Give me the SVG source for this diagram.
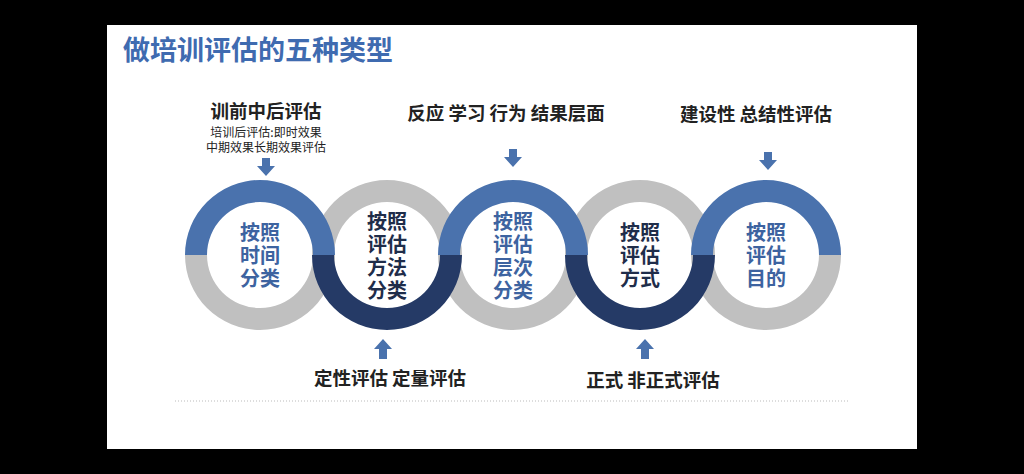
<svg xmlns="http://www.w3.org/2000/svg" width="1024" height="474" viewBox="0 0 1024 474">
<defs>
<style>
text{font-family:"Noto Sans CJK SC","Noto Sans",sans-serif;font-weight:bold}
.lbl{font-size:18.5px;fill:#222;text-anchor:middle}
.sm{font-size:12px;fill:#222;text-anchor:middle;font-weight:normal}
.in{font-size:20px;text-anchor:middle}
.b{fill:#3d63a0}.d{fill:#1f2d4a}
.arr{fill:#4a72ad}
</style>
</defs>
<rect width="1024" height="474" fill="#000"/>
<rect x="107" y="25" width="810" height="424" fill="#fff"/>
<text x="123" y="60" style="font-size:27px;fill:#3f6bb0">做培训评估的五种类型</text>
<g id="rings">
<path d="M185 255 A75 75 0 0 0 335 255 L313 255 A53 53 0 0 1 207 255Z" fill="#c0c0c0"/>
<path d="M312 255 A75 75 0 0 1 462 255 L440 255 A53 53 0 0 0 334 255Z" fill="#c0c0c0"/>
<path d="M438 255 A75 75 0 0 0 588 255 L566 255 A53 53 0 0 1 460 255Z" fill="#c0c0c0"/>
<path d="M565 255 A75 75 0 0 1 715 255 L693 255 A53 53 0 0 0 587 255Z" fill="#c0c0c0"/>
<path d="M691 255 A75 75 0 0 0 841 255 L819 255 A53 53 0 0 1 713 255Z" fill="#c0c0c0"/>
<path d="M185 255 A75 75 0 0 1 335 255 L313 255 A53 53 0 0 0 207 255Z" fill="#4a72ad"/>
<path d="M438 255 A75 75 0 0 1 588 255 L566 255 A53 53 0 0 0 460 255Z" fill="#4a72ad"/>
<path d="M691 255 A75 75 0 0 1 841 255 L819 255 A53 53 0 0 0 713 255Z" fill="#4a72ad"/>
<path d="M312 255 A75 75 0 0 0 462 255 L440 255 A53 53 0 0 1 334 255Z" fill="#253a66"/>
<path d="M565 255 A75 75 0 0 0 715 255 L693 255 A53 53 0 0 1 587 255Z" fill="#253a66"/>
</g>
<g id="n1"><text class="in b" x="260" y="240">按照</text><text class="in b" x="260" y="263">时间</text><text class="in b" x="260" y="286">分类</text></g>
<g id="n2"><text class="in d" x="387" y="229">按照</text><text class="in d" x="387" y="252">评估</text><text class="in d" x="387" y="275">方法</text><text class="in d" x="387" y="298">分类</text></g>
<g id="n3"><text class="in b" x="513" y="229">按照</text><text class="in b" x="513" y="252">评估</text><text class="in b" x="513" y="275">层次</text><text class="in b" x="513" y="298">分类</text></g>
<g id="n4"><text class="in d" x="640" y="240">按照</text><text class="in d" x="640" y="263">评估</text><text class="in d" x="640" y="286">方式</text></g>
<g id="n5"><text class="in b" x="766" y="240">按照</text><text class="in b" x="766" y="263">评估</text><text class="in b" x="766" y="286">目的</text></g>
<g id="labels">
<text class="lbl" x="266" y="118">训前中后评估</text>
<text class="sm" x="266" y="137">培训后评估:即时效果</text>
<text class="sm" x="266" y="152">中期效果长期效果评估</text>
<text class="lbl" x="506" y="120">反应 学习 行为 结果层面</text>
<text class="lbl" x="756" y="121">建设性 总结性评估</text>
<text class="lbl" x="390" y="385">定性评估 定量评估</text>
<text class="lbl" x="653" y="387">正式 非正式评估</text>
</g>
<g id="connectors" class="arr">
<path d="M262 158h8v8h5l-9 10-9-10h5z"/>
<path d="M509 149h8v8h5l-9 10-9-10h5z"/>
<path d="M764 152h8v8h5l-9 10-9-10h5z"/>
<path d="M383 339l9 10h-5v10h-8v-10h-5z"/>
<path d="M645 339l9 10h-5v10h-8v-10h-5z"/>
</g>
<line x1="175" y1="401" x2="848" y2="401" stroke="#bbb" stroke-dasharray="1 2"/>
</svg>
